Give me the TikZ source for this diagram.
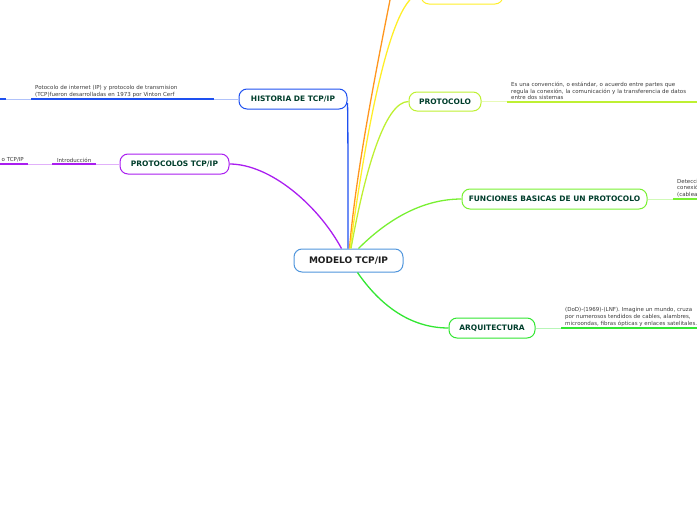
\documentclass[tikz,border=0pt]{standalone}
\usepackage{fontspec}
\setmainfont{DejaVu Sans}
\usetikzlibrary{calc}
\definecolor{nodetext}{RGB}{0,62,44}
\definecolor{maintext}{RGB}{30,30,30}
\definecolor{notetext}{RGB}{60,60,60}
\definecolor{cCenter}{RGB}{80,150,220}
\definecolor{cBlue}{RGB}{30,80,240}
\definecolor{cPurple}{RGB}{170,30,240}
\definecolor{cOrange}{RGB}{255,150,30}
\definecolor{cYellow}{RGB}{255,238,40}
\definecolor{cLime}{RGB}{190,240,50}
\definecolor{cGreenA}{RGB}{120,240,50}
\definecolor{cGreenB}{RGB}{50,230,50}
\begin{document}
\begin{tikzpicture}[x=1pt,y=-1pt,
  topic/.style={draw=#1, line width=1pt, rounded corners=8pt, fill=white,
    font=\bfseries\fontsize{7.5}{9}\selectfont, text=nodetext, inner sep=0pt,
    minimum height=20pt},
  note/.style={font=\fontsize{5.5}{6.6}\selectfont, text=notetext, align=left,
    inner xsep=4pt, inner ysep=1.5pt},
  branch/.style={line width=1.3pt, draw=#1},
  under/.style={line width=2pt, draw=#1},
  link/.style={line width=0.8pt, draw=#1!35}]
\useasboundingbox (0,0) rectangle (697,520);

% main node
\node[topic=cCenter, minimum width=109pt, minimum height=23pt, text=maintext,
  font=\bfseries\fontsize{9}{11}\selectfont] (center) at (348.5,260.5) {MODELO TCP/IP};

% topics
\node[topic=cBlue, minimum width=108pt] (hist) at (293,99) {HISTORIA DE TCP/IP};
\node[topic=cPurple, minimum width=109pt] (prot) at (174.5,164) {PROTOCOLOS TCP/IP};
\node[topic=cLime, minimum width=72pt, minimum height=19pt] (proto) at (445,101.5) {PROTOCOLO};
\node[topic=cGreenA, minimum width=185pt] (func) at (554.5,199) {FUNCIONES BASICAS DE UN PROTOCOLO};
\node[topic=cGreenB, minimum width=86pt] (arq) at (492,328) {ARQUITECTURA};
\node[topic=cYellow, minimum width=82pt] (ytop) at (462,-6) {};
\coordinate (orgEnd) at (395,-25);

% main branches
\draw[branch=cBlue] ([xshift=-0.5pt]center.north) .. controls (348,180) and (348,120) .. ([yshift=-4pt]hist.east);
\draw[branch=cPurple] ([xshift=-7pt]center.north) .. controls (318,205) and (270,164) .. (prot.east);
\draw[branch=cOrange] ([xshift=1pt]center.north) .. controls (356,170) and (378,60) .. (orgEnd);
\draw[branch=cYellow] ([xshift=1.5pt]center.north) .. controls (365,140) and (390,-6) .. (ytop.west);
\draw[branch=cLime] ([xshift=2.5pt]center.north) .. controls (365,170) and (385,101.5) .. (proto.west);
\draw[branch=cGreenA] ([xshift=10pt]center.north) .. controls (385,222) and (420,199) .. (func.west);
\draw[branch=cGreenB] ([xshift=9pt]center.south) .. controls (380,305) and (410,328) .. (arq.west);

% HISTORIA children
\node[note, anchor=south west, text width=175pt] (htxt) at (31,99)
  {Potocolo de internet (IP) y protocolo de transmision\\(TCP)fueron desarrolladas en 1973 por Vinton Cerf};
\coordinate (h2) at (6,99);
\coordinate (hEdge) at (-2,99);
\draw[link=cBlue] (hist.west) -- (htxt.south east);
\draw[under=cBlue] (htxt.south west) -- (htxt.south east);
\draw[link=cBlue] (htxt.south west) -- (h2);
\draw[under=cBlue] (h2) -- (hEdge);

% PROTOCOLOS children
\node[note, anchor=south west, minimum width=44pt] (intro) at (52,164) {Introducción};
\node[note, anchor=south east] (otcp) at (28,164) {o TCP/IP};
\coordinate (pEdge) at (-2,164);
\draw[link=cPurple] (prot.west) -- (intro.south east);
\draw[under=cPurple] (intro.south west) -- (intro.south east);
\draw[link=cPurple] (intro.south west) -- (otcp.south east);
\draw[under=cPurple] (otcp.south east) -- (pEdge);

% PROTOCOLO child
\node[note, anchor=south west, text width=182pt] (ptxt) at (507,101.5)
  {Es una convención, o estándar, o acuerdo entre partes que\\regula la conexión, la comunicación y la transferencia de datos\\entre dos sistemas};
\coordinate (prEdge) at (699,101.5);
\draw[link=cLime] (proto.east) -- (ptxt.south west);
\draw[under=cLime] (ptxt.south west) -- (prEdge);

% FUNCIONES child
\node[note, anchor=south west] (ftxt) at (673,199) {Detecci\\conexió\\(cablea};
\coordinate (fEdge) at (699,199);
\draw[link=cGreenA] (func.east) -- (ftxt.south west);
\draw[under=cGreenA] (ftxt.south west) -- (fEdge);

% ARQUITECTURA child
\node[note, anchor=south west] (atxt) at (561,328)
  {(DoD)-(1969)-(LNF). Imagine un mundo, cruza\\por numerosos tendidos de cables, alambres,\\microondas, fibras ópticas y enlaces satelitales.};
\coordinate (aEdge) at (699,328);
\draw[link=cGreenB] (arq.east) -- (atxt.south west);
\draw[under=cGreenB] (atxt.south west) -- (aEdge);
\end{tikzpicture}
\end{document}
